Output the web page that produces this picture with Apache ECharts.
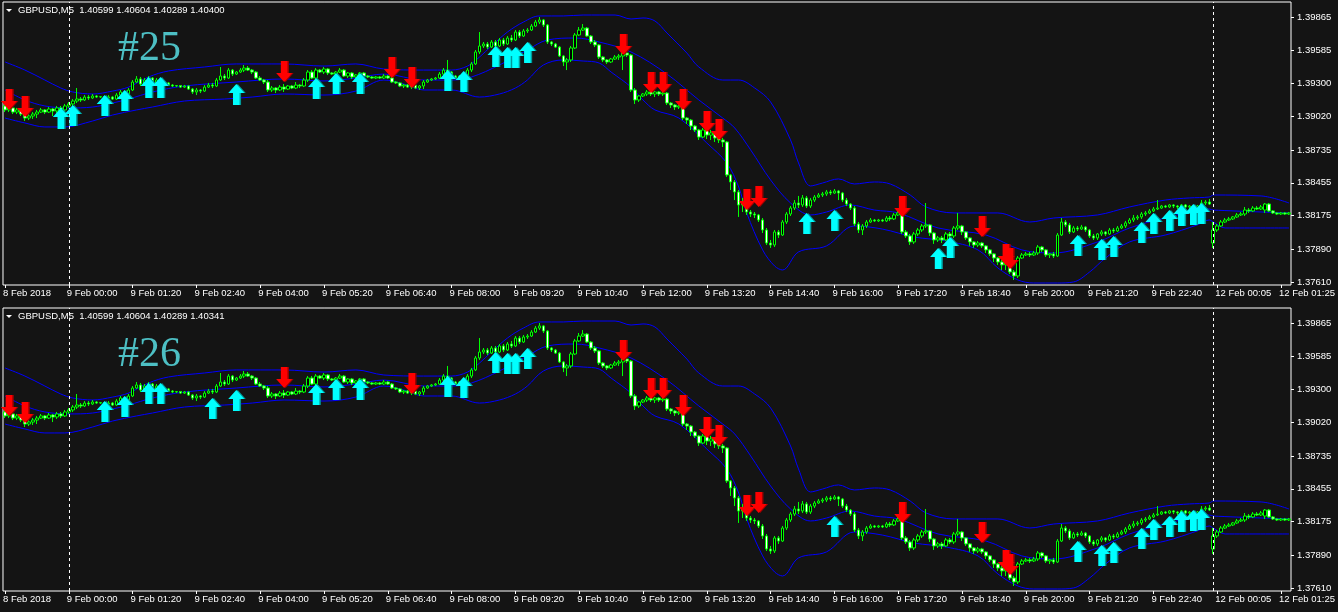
<!DOCTYPE html>
<html><head><meta charset="utf-8">
<script src="https://cdn.jsdelivr.net/npm/echarts@6/dist/echarts.min.js"></script>
<style>html,body{margin:0;padding:0;background:#141414;}#c{width:1338px;height:612px;}</style>
</head><body><div id="c"></div>
<script>
// x-axis tick labels (one every 16 bars of M5)
const tickLabels = ["8 Feb 2018","9 Feb 00:00","9 Feb 01:20","9 Feb 02:40","9 Feb 04:00","9 Feb 05:20","9 Feb 06:40","9 Feb 08:00","9 Feb 09:20","9 Feb 10:40","9 Feb 12:00","9 Feb 13:20","9 Feb 14:40","9 Feb 16:00","9 Feb 17:20","9 Feb 18:40","9 Feb 20:00","9 Feb 21:20","9 Feb 22:40","12 Feb 00:05","12 Feb 01:25"];
const priceTicks = [1.37610,1.37890,1.38175,1.38455,1.38735,1.39020,1.39300,1.39585,1.39865];
const separators = [16, 303];
const headers = ["GBPUSD,M5  1.40599 1.40604 1.40289 1.40400","GBPUSD,M5  1.40599 1.40604 1.40289 1.40341"];
const titles = ["#25","#26"];

// OHLC in points (1e-5)
const opens = [
139110,139076,139093,139058,139076,139041,139007,139024,139041,139058,
139076,139058,139084,139067,139093,139076,139110,139127,139152,139169,
139161,139186,139178,139195,139186,139190,139178,139186,139169,139203,
139229,139212,139246,139314,139340,139297,139331,139348,139306,139331,
139288,139306,139288,139280,139284,139271,139280,139254,139229,139246,
139237,139271,139288,139280,139331,139365,139348,139416,139382,139399,
139416,139433,139416,139399,139348,139331,139314,139246,139263,139246,
139271,139254,139280,139263,139288,139280,139331,139399,139348,139416,
139399,139425,139391,139382,139399,139416,139365,139391,139357,139374,
139391,139365,139357,139348,139357,139348,139365,139348,139314,139306,
139280,139288,139271,139288,139263,139280,139314,139331,139340,139348,
139382,139416,139399,139365,139348,139365,139348,139416,139468,139570,
139621,139638,139612,139655,139621,139672,139638,139689,139672,139740,
139706,139749,139757,139791,139825,139843,139800,139655,139638,139612,
139536,139485,139502,139604,139715,139757,139774,139706,139655,139630,
139527,139502,139485,139510,139527,139536,139561,139544,139246,139161,
139195,139212,139229,139212,139229,139212,139220,139135,139118,139101,
139110,139007,138990,138939,138905,138845,138905,138862,138880,138837,
138820,138803,138522,138462,138377,138266,138291,138206,138189,138181,
138138,138053,137942,137925,138036,138010,138121,138189,138240,138283,
138266,138326,138257,138308,138334,138351,138360,138377,138368,138385,
138368,138308,138274,138240,138104,138053,138087,138121,138138,138130,
138138,138130,138155,138147,138181,138198,138036,138002,137951,138019,
138053,138087,138096,138027,137968,137985,137968,138019,138002,138070,
138087,138036,137985,137951,137925,137942,137917,137883,137849,137814,
137780,137755,137772,137695,137661,137814,137840,137849,137840,137857,
137908,137883,137840,137849,137831,138010,138121,138096,138036,138070,
138061,138078,138053,138002,137985,138019,138036,138019,138053,138044,
138070,138087,138113,138138,138155,138164,138189,138198,138215,138232,
138240,138257,138249,138266,138257,138249,138266,138249,138257,138240,
138257,138283,138291,137942,138053,138087,138121,138138,138147,138164,
138181,138189,138223,138215,138240,138232,138223,138274,138215,138198,
138189,138198,138189];
const closes = [
139076,139093,139058,139076,139041,139007,139024,139041,139058,139076,
139058,139084,139067,139093,139076,139110,139127,139152,139169,139161,
139186,139178,139195,139186,139190,139178,139186,139169,139203,139229,
139212,139246,139314,139340,139297,139331,139348,139306,139331,139288,
139306,139288,139280,139284,139271,139280,139254,139229,139246,139237,
139271,139288,139280,139331,139365,139348,139416,139382,139399,139416,
139433,139416,139399,139348,139331,139314,139246,139263,139246,139271,
139254,139280,139263,139288,139280,139331,139399,139348,139416,139399,
139425,139391,139382,139399,139416,139365,139391,139357,139374,139391,
139365,139357,139348,139357,139348,139365,139348,139314,139306,139280,
139288,139271,139288,139263,139280,139314,139331,139340,139348,139382,
139416,139399,139365,139348,139365,139348,139416,139468,139570,139621,
139638,139612,139655,139621,139672,139638,139689,139672,139740,139706,
139749,139757,139791,139825,139843,139800,139655,139638,139612,139536,
139485,139502,139604,139715,139757,139774,139706,139655,139630,139527,
139502,139485,139510,139527,139536,139561,139544,139246,139161,139195,
139212,139229,139212,139229,139212,139220,139135,139118,139101,139110,
139007,138990,138939,138905,138845,138905,138862,138880,138837,138820,
138803,138522,138462,138377,138266,138291,138206,138189,138181,138138,
138053,137942,137925,138036,138010,138121,138189,138240,138283,138266,
138326,138257,138308,138334,138351,138360,138377,138368,138385,138368,
138308,138274,138240,138104,138053,138087,138121,138138,138130,138138,
138130,138155,138147,138181,138198,138036,138002,137951,138019,138053,
138087,138096,138027,137968,137985,137968,138019,138002,138070,138087,
138036,137985,137951,137925,137942,137917,137883,137849,137814,137780,
137755,137772,137695,137661,137814,137840,137849,137840,137857,137908,
137883,137840,137849,137831,138010,138121,138096,138036,138070,138061,
138078,138053,138002,137985,138019,138036,138019,138053,138044,138070,
138087,138113,138138,138155,138164,138189,138198,138215,138232,138240,
138257,138249,138266,138257,138249,138266,138249,138257,138240,138257,
138283,138291,138274,138053,138087,138121,138138,138147,138164,138181,
138189,138223,138215,138240,138232,138249,138274,138215,138198,138189,
138198,138189,138198];
const highs = [
139127,139110,139110,139093,139084,139058,139050,139058,139076,139093,
139084,139101,139093,139110,139110,139127,139144,139169,139263,139186,
139203,139203,139212,139203,139195,139195,139203,139195,139220,139246,
139237,139263,139331,139365,139357,139348,139365,139357,139348,139340,
139314,139314,139297,139288,139288,139288,139288,139263,139263,139254,
139288,139306,139306,139348,139442,139382,139433,139425,139408,139433,
139459,139450,139425,139408,139365,139340,139331,139280,139271,139288,
139297,139288,139288,139314,139297,139348,139416,139416,139433,139425,
139442,139433,139399,139408,139433,139425,139399,139399,139382,139399,
139399,139374,139365,139365,139365,139382,139374,139357,139323,139314,
139297,139297,139306,139297,139288,139331,139340,139348,139357,139399,
139433,139502,139408,139374,139374,139374,139433,139485,139587,139740,
139655,139655,139672,139672,139689,139689,139706,139715,139757,139757,
139766,139774,139808,139843,139868,139851,139808,139664,139647,139621,
139544,139519,139621,139732,139783,139808,139783,139715,139672,139638,
139536,139510,139519,139544,139553,139587,139570,139553,139263,139203,
139220,139246,139237,139237,139237,139229,139229,139144,139127,139118,
139118,139016,138999,138948,138914,138922,138931,138905,138888,138845,
138837,138811,138530,138479,138394,138326,138308,138223,138206,138189,
138155,138070,137968,138053,138053,138138,138206,138257,138308,138343,
138351,138343,138326,138351,138368,138377,138394,138394,138402,138394,
138377,138326,138283,138257,138121,138104,138138,138155,138147,138147,
138147,138172,138172,138198,138215,138206,138053,138019,138036,138070,
138104,138283,138104,138036,138002,138002,138036,138036,138087,138198,
138096,138044,137993,137959,137959,137951,137925,137891,137857,137823,
137797,137789,137780,137712,137831,137857,137866,137866,137874,137925,
137917,137891,137857,137866,138027,138155,138138,138113,138087,138087,
138096,138087,138061,138019,138027,138053,138044,138070,138070,138087,
138104,138130,138155,138181,138181,138206,138215,138232,138249,138308,
138266,138266,138274,138274,138266,138274,138274,138266,138266,138266,
138308,138308,138317,138121,138104,138138,138155,138164,138172,138198,
138206,138249,138240,138257,138257,138266,138283,138283,138223,138206,
138206,138206,138206];
const lows = [
139058,139058,139041,139041,139024,138982,138990,138999,139007,139050,
139041,139050,139024,139050,139058,139067,139093,139110,139135,139144,
139152,139161,139169,139178,139178,139169,139169,139161,139161,139195,
139195,139203,139237,139306,139280,139288,139314,139288,139280,139271,
139280,139280,139271,139271,139263,139263,139246,139212,139203,139220,
139229,139263,139263,139271,139323,139331,139340,139365,139374,139391,
139399,139408,139382,139340,139323,139297,139229,139229,139220,139237,
139229,139246,139254,139254,139263,139271,139314,139340,139331,139391,
139382,139374,139374,139365,139391,139357,139348,139340,139348,139365,
139357,139348,139340,139340,139340,139340,139340,139306,139297,139271,
139263,139263,139254,139254,139246,139254,139306,139323,139331,139340,
139365,139382,139348,139340,139331,139340,139340,139399,139459,139553,
139604,139595,139604,139612,139612,139621,139630,139655,139664,139689,
139698,139732,139749,139783,139808,139783,139638,139621,139604,139527,
139450,139416,139485,139595,139706,139749,139698,139638,139612,139510,
139485,139468,139476,139502,139502,139416,139527,139229,139127,139144,
139186,139195,139195,139186,139195,139195,139118,139093,139076,139084,
138990,138956,138905,138888,138820,138837,138828,138820,138803,138794,
138760,138505,138394,138308,138164,138206,138181,138164,138155,138121,
138027,137925,137900,137908,137985,138002,138104,138172,138223,138240,
138249,138240,138240,138291,138326,138334,138343,138351,138360,138308,
138291,138257,138223,138087,138027,138010,138070,138113,138121,138121,
138121,138121,138130,138138,138172,138019,137985,137925,137934,138002,
138036,138070,138002,137934,137951,137942,137959,137985,137985,138053,
138010,137968,137917,137900,137908,137900,137857,137831,137780,137755,
137712,137712,137678,137627,137644,137806,137831,137823,137831,137840,
137866,137823,137814,137814,137823,138002,138078,138019,138027,138044,
138053,138036,137985,137968,137968,138002,138002,138010,138027,138036,
138061,138070,138104,138121,138138,138147,138172,138189,138206,138223,
138232,138240,138240,138240,138232,138240,138232,138232,138223,138232,
138240,138266,138266,137900,138036,138078,138113,138130,138138,138155,
138172,138172,138198,138206,138223,138223,138198,138206,138189,138181,
138181,138181,138181];

// Bollinger band lines: [bar index, price in points]
const bandUpper = [[0,139485],[5,139416],[10,139331],[14,139263],[17,139229],[22,139212],[27,139237],[31,139271],[36,139357],[41,139408],[50,139442],[58,139468],[70,139468],[80,139450],[88,139468],[95,139425],[105,139416],[112,139416],[116,139450],[119,139527],[122,139621],[126,139740],[130,139825],[134,139877],[140,139877],[145,139885],[153,139885],[157,139851],[160,139860],[163,139834],[166,139732],[171,139561],[174,139442],[180,139331],[184,139331],[188,139263],[192,139144],[197,138820],[199,138624],[202,138428],[205,138453],[209,138488],[213,138445],[218,138462],[222,138445],[227,138351],[231,138249],[238,138198],[249,138198],[257,138121],[263,138155],[274,138181],[282,138249],[291,138308],[297,138326],[302,138334],[303,138351],[315,138343],[322,138283]];
const bandMiddle = [[0,139246],[5,139161],[10,139110],[16,139093],[22,139101],[27,139135],[31,139169],[37,139229],[45,139280],[58,139314],[70,139340],[80,139323],[88,139348],[95,139382],[105,139331],[112,139331],[117,139357],[124,139459],[131,139587],[136,139672],[143,139689],[149,139655],[157,139570],[166,139382],[174,139161],[180,139007],[183,138922],[187,138735],[192,138479],[197,138283],[202,138181],[206,138206],[212,138266],[218,138223],[224,138198],[234,138070],[246,138010],[255,137883],[263,137857],[274,137951],[282,138070],[291,138155],[302,138232],[303,138223],[322,138198]];
const bandLower = [[0,139007],[5,138965],[10,138931],[15,138931],[22,138982],[27,139033],[33,139076],[37,139101],[45,139152],[55,139169],[62,139186],[70,139212],[80,139203],[88,139237],[95,139331],[100,139297],[105,139246],[112,139246],[119,139186],[124,139212],[128,139263],[131,139331],[135,139459],[140,139502],[145,139493],[149,139476],[152,139399],[157,139271],[160,139161],[163,139076],[169,139007],[176,138794],[181,138624],[184,138419],[186,138198],[190,137883],[193,137746],[195,137712],[199,137866],[206,137917],[213,138087],[220,138061],[228,137993],[236,137959],[244,137883],[249,137729],[254,137627],[258,137601],[264,137601],[268,137610],[272,137695],[276,137814],[282,137951],[291,138010],[299,138096],[302,138138],[303,138121],[306,138070],[322,138070]];

// signal arrows: [bar index, price in points at arrow tip]
const upTop = [[14,139093],[17,139118],[25,139203],[30,139246],[36,139357],[39,139357],[58,139297],[78,139348],[83,139391],[89,139391],[111,139416],[115,139408],[123,139621],[126,139612],[128,139612],[131,139655],[201,138198],[208,138223],[234,137900],[237,137993],[269,138010],[275,137976],[278,138002],[285,138121],[288,138198],[292,138223],[295,138266],[298,138274],[300,138283]];
const downTop = [[1,139076],[5,139016],[70,139314],[97,139348],[102,139263],[155,139544],[162,139220],[165,139220],[170,139076],[176,138888],[179,138820],[186,138223],[189,138249],[225,138164],[245,137993],[251,137755],[252,137721]];
const upBottom = [[25,139203],[30,139246],[36,139357],[39,139357],[52,139229],[58,139297],[78,139348],[83,139391],[89,139391],[111,139416],[115,139408],[123,139621],[126,139612],[128,139612],[131,139655],[208,138223],[269,138010],[275,137976],[278,138002],[285,138121],[288,138198],[292,138223],[295,138266],[298,138274],[300,138283]];
const downBottom = [[1,139076],[5,139016],[70,139314],[102,139263],[155,139544],[162,139220],[165,139220],[170,139076],[176,138888],[179,138820],[186,138223],[189,138249],[225,138164],[245,137993],[251,137755],[252,137721]];

const N = opens.length;
const cats = Array.from({length: N}, (_, i) => String(i));
const candles = opens.map((o, i) => [o / 1e5, closes[i] / 1e5, lows[i] / 1e5, highs[i] / 1e5]);
const toP = arr => arr.map(([i, p]) => [i, p / 1e5]);

const FONT = '"Liberation Sans", Arial, sans-serif';
const UP_PATH = 'path://M8.5,0L17,9L12,9L12,21L5,21L5,9L0,9Z';
const DOWN_PATH = 'path://M5,0L12,0L12,12L17,12L8.5,21L0,12L5,12Z';

const panelTop = [2, 308];
const grids = [], xAxes = [], yAxes = [], series = [], graphics = [];

[[upTop, downTop], [upBottom, downBottom]].forEach(([ups, downs], g) => {
  const top = panelTop[g];
  grids.push({left: 1, top: top, width: 1294, height: 283, show: true, borderColor: '#ffffff', borderWidth: 1, backgroundColor: 'transparent'});
  xAxes.push({
    type: 'category', gridIndex: g, data: cats, boundaryGap: true,
    axisLine: {show: false},
    axisTick: {show: true, interval: (i) => i % 16 === 0, alignWithLabel: true, length: 3, lineStyle: {color: '#ffffff'}},
    axisLabel: {interval: (i) => i % 16 === 0, formatter: (v, i) => tickLabels[Math.round(i / 16)] || '', align: 'left', color: '#ffffff', fontFamily: FONT, fontSize: 9.5, margin: 3, padding: [0, 0, 0, -2]},
    splitLine: {show: false}
  });
  yAxes.push({
    type: 'value', gridIndex: g, position: 'right', min: 1.37584, max: 1.39996, scale: true,
    axisLine: {show: false}, splitLine: {show: false},
    axisTick: {show: true, customValues: priceTicks, length: 3, lineStyle: {color: '#ffffff'}},
    axisLabel: {customValues: priceTicks, formatter: v => v.toFixed(5), color: '#ffffff', fontFamily: FONT, fontSize: 9.5, margin: 6}
  });
  [bandUpper, bandMiddle, bandLower].forEach(b => series.push({
    type: 'line', xAxisIndex: g, yAxisIndex: g, data: toP(b), smooth: 0.35, symbol: 'none',
    lineStyle: {color: '#0000ff', width: 1}, z: 2, silent: true
  }));
  series.push({
    type: 'candlestick', xAxisIndex: g, yAxisIndex: g, data: candles, barWidth: 3, z: 3,
    itemStyle: {color: '#000000', color0: '#ffffff', borderColor: '#00ff00', borderColor0: '#00ff00', borderWidth: 1},
    markLine: {symbol: ['none', 'none'], silent: true, label: {show: false},
      lineStyle: {color: '#ffffff', type: [3, 3], width: 1},
      data: separators.map(s => ({xAxis: String(s)}))}
  });
  const arrow = (data, path, off, color, size, z) => ({
    type: 'scatter', xAxisIndex: g, yAxisIndex: g, data: toP(data), symbol: path,
    symbolSize: size, symbolOffset: off, itemStyle: {color: color, opacity: 1}, z: z, silent: true
  });
  series.push(arrow(ups, UP_PATH, [1.5, 10.5], '#009a9a', [16, 21], 4));
  series.push(arrow(ups, UP_PATH, [0, 10.5], '#00ffff', [16, 21], 5));
  series.push(arrow(downs, DOWN_PATH, [1.5, -10.5], '#a00000', [16, 21], 4));
  series.push(arrow(downs, DOWN_PATH, [0, -10.5], '#ff0000', [16, 21], 5));

  graphics.push({type: 'polygon', shape: {points: [[6, top + 7], [12, top + 7], [9, top + 10]]}, style: {fill: '#ffffff'}});
  graphics.push({type: 'text', x: 18, y: top + 8, style: {text: headers[g], fill: '#ffffff', font: '9.5px ' + FONT, verticalAlign: 'middle'}});
  graphics.push({type: 'text', x: 118, y: top + 47, style: {text: titles[g], fill: '#4dbfc4', font: '42px "Liberation Serif", serif', verticalAlign: 'middle'}});
});

const chart = echarts.init(document.getElementById('c'), null, {renderer: 'canvas'});
chart.setOption({
  backgroundColor: '#141414', animation: false,
  grid: grids, xAxis: xAxes, yAxis: yAxes, series: series, graphic: graphics
});
</script></body></html>
